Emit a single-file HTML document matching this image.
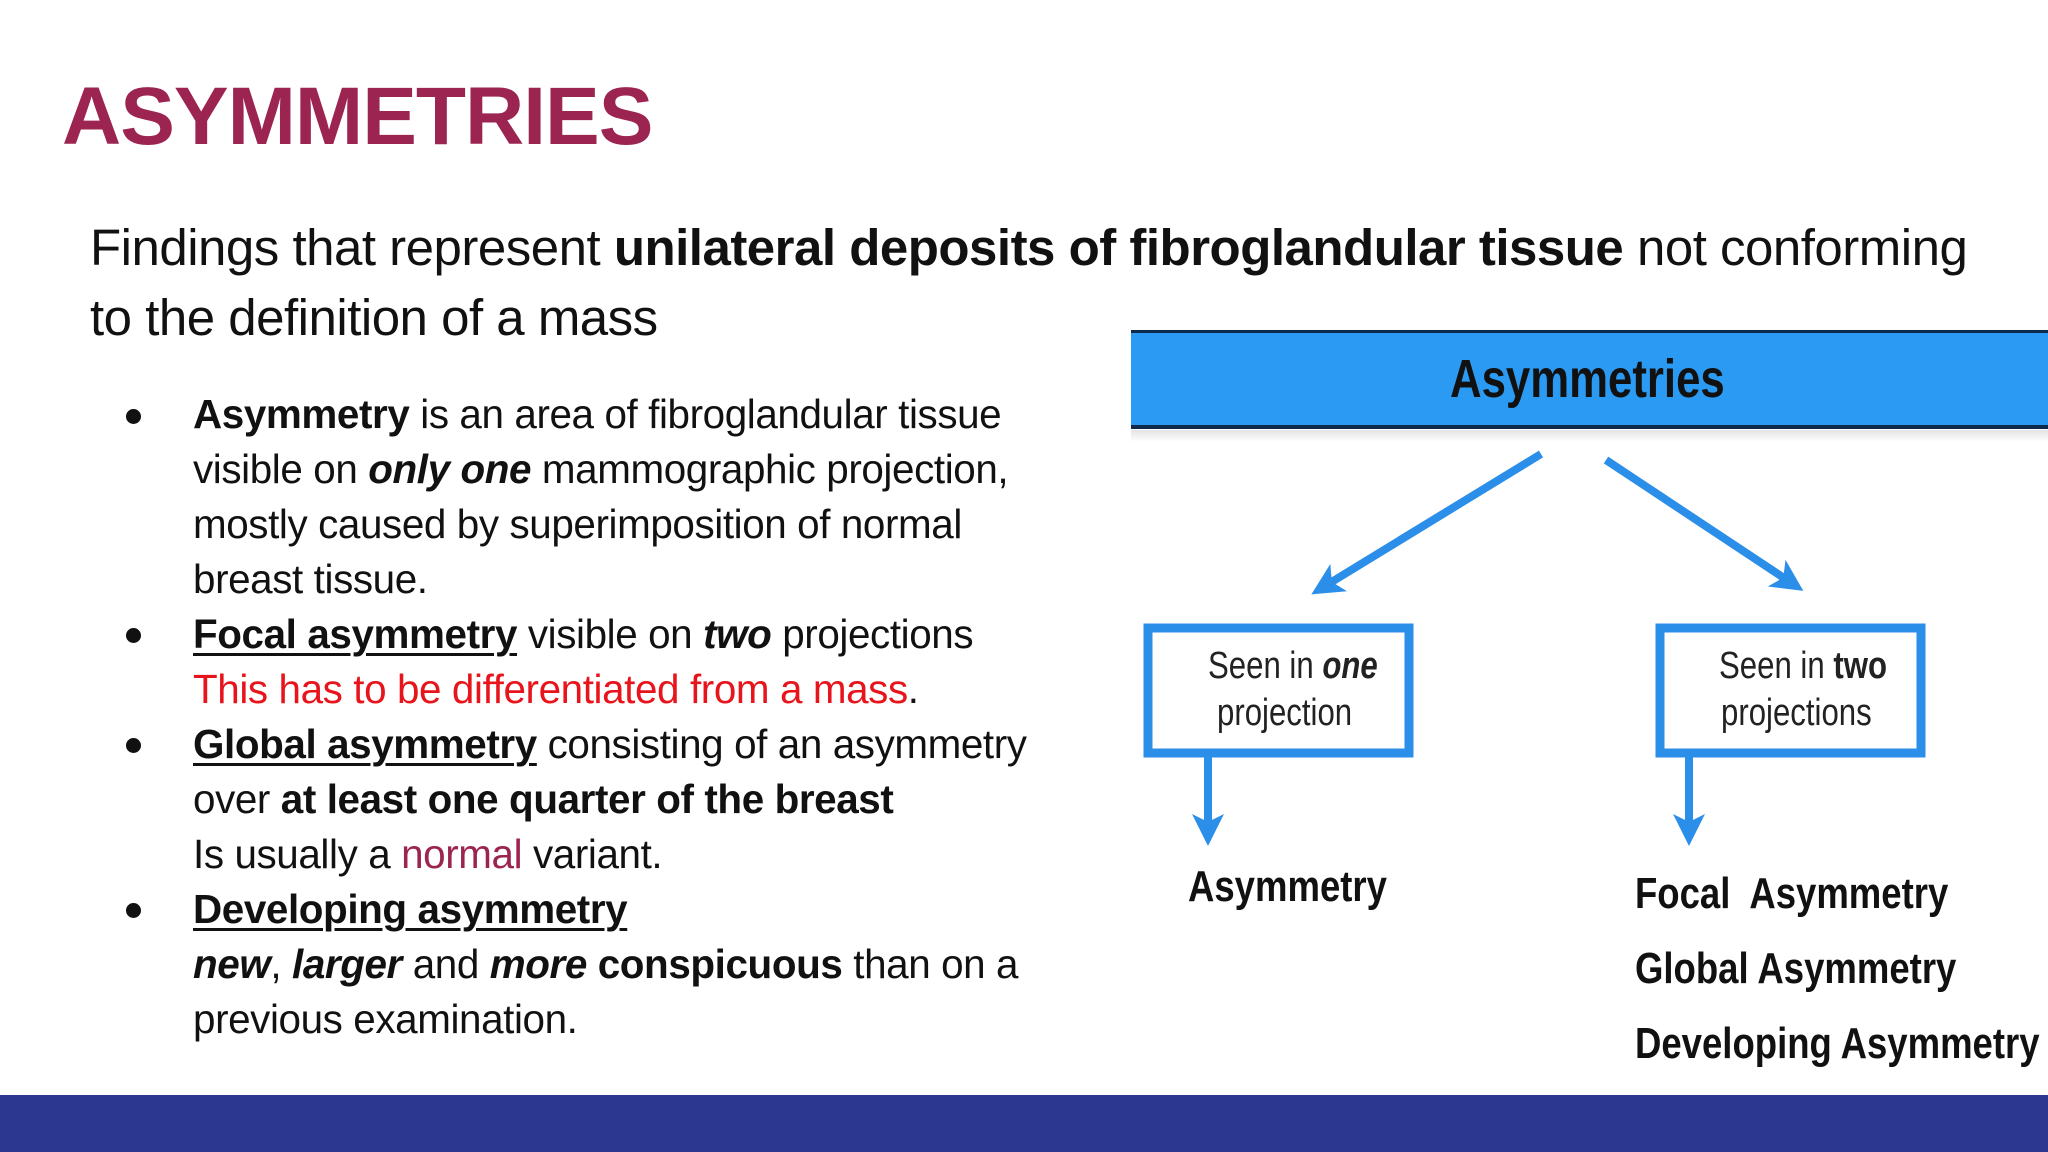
<!DOCTYPE html>
<html><head><meta charset="utf-8"><style>
body{margin:0;width:2048px;height:1152px;overflow:hidden;background:#fff;position:relative;font-family:"Liberation Sans",sans-serif;color:#111}
.t{position:absolute;white-space:nowrap}
h1{position:absolute;left:62px;top:70px;margin:0;font-size:82px;font-weight:bold;color:#9c2450;letter-spacing:-1px}
.p{font-size:51px;left:90px;letter-spacing:-0.5px}
.b{font-size:40.4px;left:193px;letter-spacing:-0.4px}
.dot{position:absolute;left:126px;width:15px;height:15px;border-radius:50%;background:#111}
u{text-decoration-thickness:3px;text-underline-offset:5px}
.n{font-family:"Liberation Sans Narrow","Liberation Sans",sans-serif}
</style></head><body>
<h1>ASYMMETRIES</h1>
<div class="t p" style="top:218px">Findings that represent <b>unilateral deposits of fibroglandular tissue</b> not conforming</div>
<div class="t p" style="top:288px">to the definition of a mass</div>

<div class="dot" style="top:409px"></div>
<div class="t b" style="top:391px"><b>Asymmetry</b> is an area of fibroglandular tissue</div>
<div class="t b" style="top:446px">visible on <b><i>only one</i></b> mammographic projection,</div>
<div class="t b" style="top:501px">mostly caused by superimposition of normal</div>
<div class="t b" style="top:556px">breast tissue.</div>
<div class="dot" style="top:628px"></div>
<div class="t b" style="top:611px"><b><u>Focal asymmetry</u></b> visible on <b><i>two</i></b> projections</div>
<div class="t b" style="top:666px"><span style="color:#e8141c">This has to be differentiated from a mass</span>.</div>
<div class="dot" style="top:738px"></div>
<div class="t b" style="top:721px"><b><u>Global asymmetry</u></b> consisting of an asymmetry</div>
<div class="t b" style="top:776px">over <b>at least one quarter of the breast</b></div>
<div class="t b" style="top:831px">Is usually a <span style="color:#9c2450">normal</span> variant.</div>
<div class="dot" style="top:903px"></div>
<div class="t b" style="top:886px"><b><u>Developing asymmetry</u></b></div>
<div class="t b" style="top:941px"><b><i>new</i></b>, <b><i>larger</i></b> and <b><i>more</i> conspicuous</b> than on a</div>
<div class="t b" style="top:996px">previous examination.</div>

<div style="position:absolute;left:1131px;top:330px;width:917px;height:92px;background:#2b9af3;border-top:3px solid #0d2a4a;border-bottom:4px solid #0d2a4a"></div>
<div style="position:absolute;left:1131px;top:430px;width:917px;height:12px;background:linear-gradient(#e4e4e4,#fff)"></div>
<div class="t n" style="left:1450px;top:348px;font-size:54px;font-weight:bold;color:#111;transform:scaleX(0.81);transform-origin:left">Asymmetries</div>

<svg style="position:absolute;left:0;top:0" width="2048" height="1152">
<defs><marker id="a" markerWidth="4" markerHeight="4" refX="2" refY="2" orient="auto" markerUnits="strokeWidth"><path d="M0,0 L4,2 L0,4 L1,2 Z" fill="#2b8ee8"/></marker></defs>
<g stroke="#2b8ee8" stroke-width="8" fill="none">
<line x1="1541" y1="454" x2="1325" y2="586" marker-end="url(#a)"/>
<line x1="1606" y1="460" x2="1790" y2="582" marker-end="url(#a)"/>
<line x1="1208" y1="757" x2="1208" y2="830" marker-end="url(#a)"/>
<line x1="1689" y1="757" x2="1689" y2="830" marker-end="url(#a)"/>
<rect x="1148" y="628" width="261" height="125" stroke-width="9"/>
<rect x="1660" y="628" width="261" height="125" stroke-width="9"/>
</g>
</svg>
<div class="t n" style="left:1208px;top:645px;font-size:38px;color:#222;transform:scaleX(0.82);transform-origin:left">Seen in <b><i>one</i></b></div>
<div class="t n" style="left:1217px;top:692px;font-size:38px;color:#222;transform:scaleX(0.82);transform-origin:left">projection</div>
<div class="t n" style="left:1719px;top:645px;font-size:38px;color:#222;transform:scaleX(0.82);transform-origin:left">Seen in <b>two</b></div>
<div class="t n" style="left:1721px;top:692px;font-size:38px;color:#222;transform:scaleX(0.82);transform-origin:left">projections</div>
<div class="t n" style="left:1188px;top:862px;font-size:44px;font-weight:bold;transform:scaleX(0.83);transform-origin:left">Asymmetry</div>
<div class="t n" style="left:1635px;top:869px;font-size:44px;font-weight:bold;transform:scaleX(0.83);transform-origin:left">Focal&nbsp; Asymmetry</div>
<div class="t n" style="left:1635px;top:944px;font-size:44px;font-weight:bold;transform:scaleX(0.83);transform-origin:left">Global Asymmetry</div>
<div class="t n" style="left:1635px;top:1019px;font-size:44px;font-weight:bold;transform:scaleX(0.83);transform-origin:left">Developing Asymmetry</div>

<div style="position:absolute;left:0;top:1095px;width:2048px;height:57px;background:#2c3790"></div>
</body></html>
